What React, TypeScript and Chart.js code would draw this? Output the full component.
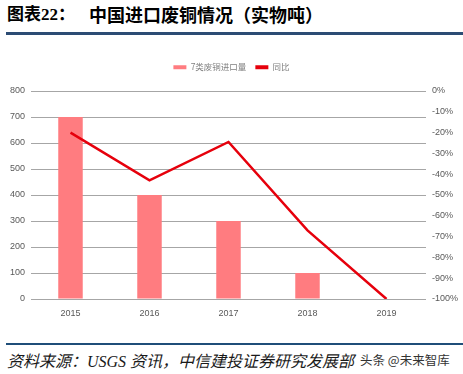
import React, { useEffect, useRef } from "react";
import { Chart, registerables } from "chart.js";

Chart.register(...registerables);

const categories = ["2015", "2016", "2017", "2018", "2019"];
const importVolume = [700, 400, 300, 100, 0];
const yoyChange = [-20, -43, -24.5, -67, -100];
const seriesNames = ["7类废铜进口量", "同比"];
const leftAxis = { min: 0, max: 800, step: 100 };
const rightAxis = { min: -100, max: 0, step: 10 };
const titleLabel = "图表22：";
const titleText = "中国进口废铜情况（实物吨）";
const sourceText = "资料来源：USGS 资讯，中信建投证券研究发展部";
const watermark = "头条 @未来智库";

const BAR_COLOR = "#ff7c80";
const LINE_COLOR = "#e6000c";
const BLUE = "#2c4c74";
const tickFont = {
  family: '"Liberation Sans Narrow", "Liberation Sans", Arial, sans-serif',
  size: 9,
};

export default function App() {
  const ref = useRef<HTMLCanvasElement | null>(null);

  useEffect(() => {
    if (!ref.current) return;
    const legendFix = {
      id: "legendFix",
      beforeUpdate(chart: any) {
        const lg = chart.legend;
        if (lg && !lg.__patched) {
          const orig = lg.fit;
          lg.fit = function () {
            orig.call(this);
            this.height = 37;
          };
          lg.__patched = true;
        }
      },
    };
    const chart = new Chart(ref.current, {
      type: "bar",
      data: {
        labels: categories,
        datasets: [
          {
            type: "bar",
            label: seriesNames[0],
            data: importVolume,
            backgroundColor: BAR_COLOR,
            borderWidth: 0,
            yAxisID: "y",
            categoryPercentage: 0.31,
            barPercentage: 1,
            order: 1,
          },
          {
            type: "line",
            label: seriesNames[1],
            data: yoyChange,
            borderColor: LINE_COLOR,
            backgroundColor: LINE_COLOR,
            borderWidth: 2.5,
            pointRadius: 0,
            tension: 0,
            yAxisID: "y1",
            order: 0,
          },
        ] as any,
      },
      options: {
        animation: false,
        responsive: false,
        maintainAspectRatio: false,
        layout: { padding: { top: 14, left: 0, right: 0, bottom: 0 } },
        plugins: {
          tooltip: { enabled: false },
          legend: {
            position: "top",
            labels: {
              boxWidth: 13,
              boxHeight: 4,
              padding: 9,
              color: "#808080",
              font: { family: '"Noto Sans CJK SC", sans-serif', size: 8.5 },
              sort: (a: any, b: any) => a.datasetIndex - b.datasetIndex,
              generateLabels: (c: any) =>
                (Chart.defaults.plugins.legend.labels as any)
                  .generateLabels(c)
                  .map((l: any) => ({ ...l, lineWidth: 0 })),
            },
          },
        },
        scales: {
          x: {
            grid: { display: false },
            border: { display: false },
            ticks: { color: "#595959", font: tickFont, padding: 1, maxRotation: 0 },
            afterFit: (s: any) => {
              s.height = 25;
            },
          },
          y: {
            position: "left",
            min: leftAxis.min,
            max: leftAxis.max,
            grid: { color: "#a6a6a6", lineWidth: 1, drawTicks: false },
            border: { display: false },
            ticks: { stepSize: leftAxis.step, color: "#595959", font: tickFont, padding: 6 },
            afterFit: (s: any) => {
              s.width = 31;
            },
          },
          y1: {
            position: "right",
            min: rightAxis.min,
            max: rightAxis.max,
            grid: { display: false, drawTicks: false },
            border: { display: false },
            ticks: {
              stepSize: rightAxis.step,
              color: "#595959",
              font: tickFont,
              padding: 6,
              callback: (v: any) => `${v}%`,
            },
            afterFit: (s: any) => {
              s.width = 37;
            },
          },
        },
      } as any,
      plugins: [legendFix],
    });
    return () => chart.destroy();
  }, []);

  return (
    <div
      style={{
        position: "fixed",
        left: 0,
        top: 0,
        width: 463,
        height: 374,
        background: "#fff",
        overflow: "hidden",
      }}
    >
      <div
        style={{
          position: "absolute",
          left: 7,
          top: 5,
          fontFamily: '"Liberation Serif", "Noto Sans CJK SC", serif',
          fontWeight: 700,
          fontSize: 17,
          lineHeight: "20px",
          color: "#000",
          whiteSpace: "nowrap",
        }}
      >
        {titleLabel}
      </div>
      <div
        style={{
          position: "absolute",
          left: 89,
          top: 4,
          fontFamily: '"Noto Sans CJK SC", sans-serif',
          fontWeight: 700,
          fontSize: 18,
          lineHeight: "21px",
          color: "#000",
          whiteSpace: "nowrap",
        }}
      >
        {titleText}
      </div>
      <div
        style={{ position: "absolute", left: 6, right: 0, top: 32, height: 3, background: BLUE }}
      />
      <canvas
        ref={ref}
        width={463}
        height={284}
        style={{ position: "absolute", left: 0, top: 40, width: 463, height: 284 }}
      />
      <div
        style={{ position: "absolute", left: 6, right: 0, top: 343, height: 2, background: "#1f4e79" }}
      />
      <div
        style={{
          position: "absolute",
          left: 7,
          top: 352,
          fontFamily: '"Liberation Serif", "Noto Sans CJK SC", serif',
          fontStyle: "italic",
          fontSize: 16,
          lineHeight: "20px",
          color: "#1a1a1a",
          whiteSpace: "nowrap",
        }}
      >
        {sourceText}
      </div>
      <div
        style={{
          position: "absolute",
          left: 360,
          top: 352,
          fontFamily: '"Noto Sans CJK SC", sans-serif',
          fontSize: 12.5,
          lineHeight: "16px",
          color: "#333",
          whiteSpace: "nowrap",
        }}
      >
        {watermark}
      </div>
    </div>
  );
}
